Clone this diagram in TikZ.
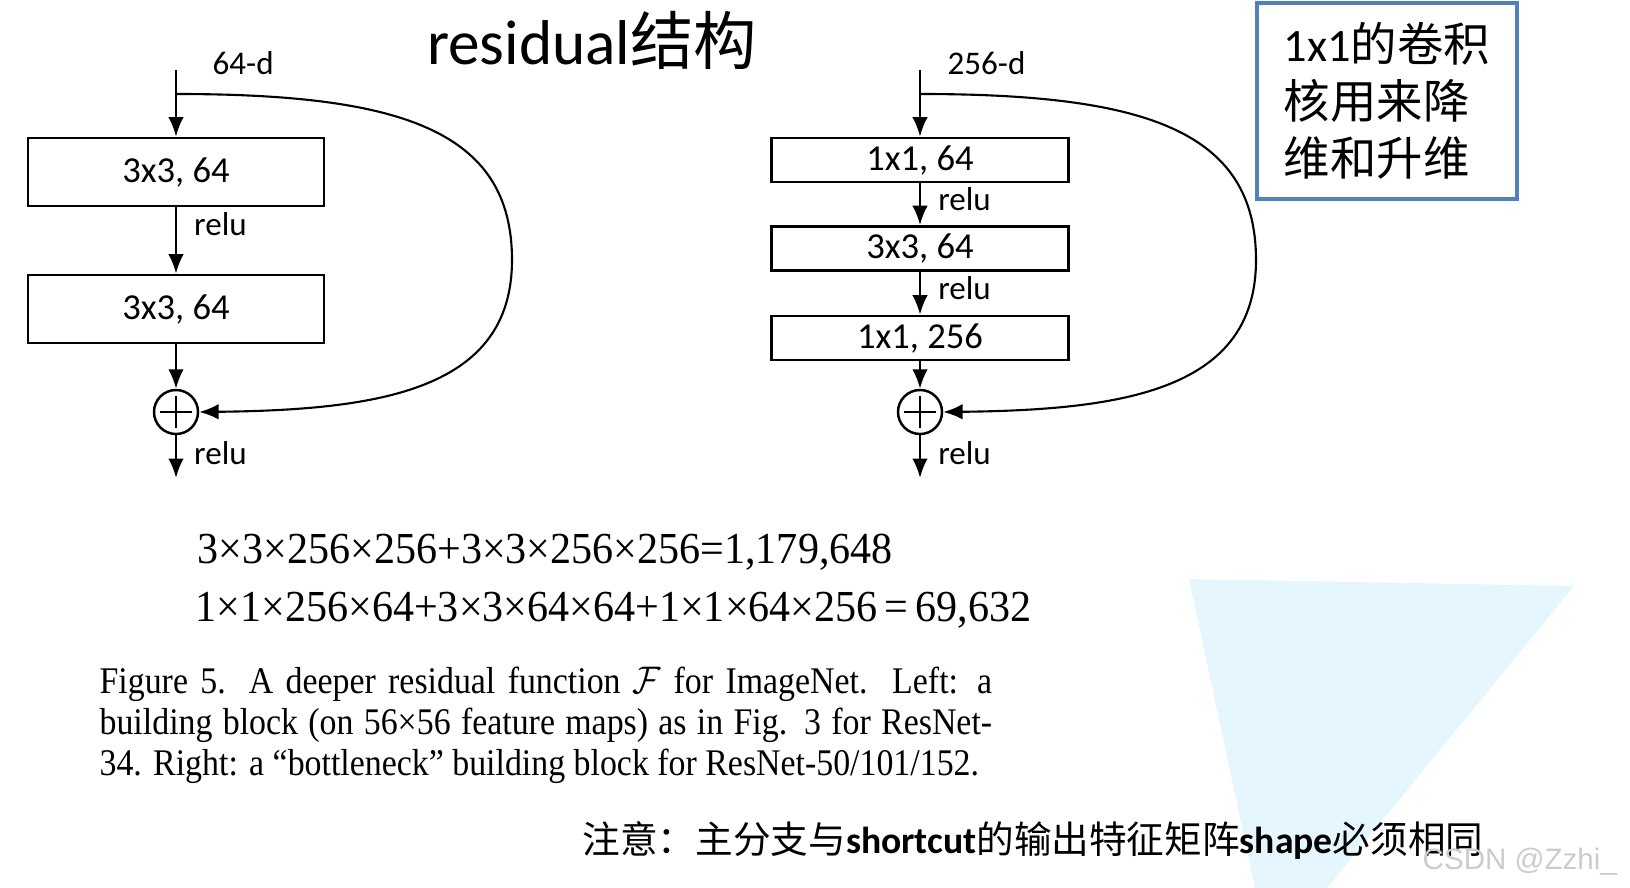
\documentclass[tikz,border=0pt]{standalone}
\usepackage{fontspec}
\usetikzlibrary{arrows.meta,positioning}
\setmainfont{Liberation Serif}
\newfontfamily\calibrifont{Carlito}
\newfontfamily\cjkfont{Noto Sans CJK SC}
\newfontfamily\markfont{Liberation Sans}
\definecolor{boxblue}{RGB}{79,129,189}
\definecolor{paleblue}{RGB}{230,246,254}

\begin{document}
\begin{tikzpicture}[x=0.01cm,y=-0.01cm,
    >={Latex[length=5.5pt,width=4.4pt]},
    flow/.style={->,line width=0.7pt},
    convbox/.style={draw,line width=0.8pt,inner sep=0pt,font=\calibrifont\fontsize{10.4}{12}\selectfont},
    bigbox/.style={convbox,minimum width=2.96cm,minimum height=0.68cm},
    thinbox/.style={convbox,minimum width=2.97cm,minimum height=0.44cm},
    sumnode/.style={circle,draw,line width=0.7pt,minimum size=0.44cm,inner sep=0pt,
        path picture={\draw[line width=0.7pt] (path picture bounding box.center)
            +(-0.16cm,0) -- +(0.16cm,0) +(0,-0.16cm) -- +(0,0.16cm);}},
    lbl/.style={font=\calibrifont\fontsize{9.4}{11}\selectfont,inner sep=0pt},
    relu/.style={lbl,anchor=west,xshift=0.17cm},
    eqline/.style={anchor=west,inner sep=0pt,xscale=0.95,transform shape,font=\fontsize{12.6}{14}\selectfont},
]
    \useasboundingbox (0,0) rectangle (1630,888);
    \fill[paleblue] (1189,579) -- (1574,586) -- (1327,888) -- (1255,888) -- cycle;

    % title
    \node (title) at (592,40) {\fontsize{18}{20}\selectfont{\calibrifont residual}{\cjkfont 结构}};

    % left: plain block
    \coordinate (lin) at (176,70);
    \coordinate (lsplit) at (176,94);
    \node[lbl,anchor=west] (ldim) at (212,63) {64-d};
    \node[bigbox] (lconv1) at (176,172) {3x3, 64};
    \node[bigbox] (lconv2) at (176,309) {3x3, 64};
    \node[sumnode] (lsum) at (176,412) {};
    \coordinate (lout) at (176,478);
    \draw[flow] (lin) -- (lconv1);
    \draw[flow] (lconv1) -- node[relu,pos=0.25] (lrelu1) {relu} (lconv2);
    \draw[flow] (lconv2) -- (lsum);
    \draw[flow] (lsum) -- node[relu,pos=0.41] (lrelu2) {relu} (lout);
    \draw[flow,line width=0.6pt] (lsplit) .. controls (400,94) and (512,130) .. (512,260)
        .. controls (512,390) and (380,410) .. (lsum.east);

    % right: bottleneck block
    \coordinate (rin) at (920,70);
    \coordinate (rsplit) at (920,94);
    \node[lbl,anchor=west] (rdim) at (947,63) {256-d};
    \node[thinbox] (rconv1) at (920,160) {1x1, 64};
    \node[thinbox] (rconv2) at (920,248.5) {3x3, 64};
    \node[thinbox] (rconv3) at (920,338) {1x1, 256};
    \node[sumnode] (rsum) at (920,412) {};
    \coordinate (rout) at (920,478);
    \draw[flow] (rin) -- (rconv1);
    \draw[flow] (rconv1) -- node[relu,pos=0.38] (rrelu1) {relu} (rconv2);
    \draw[flow] (rconv2) -- node[relu,pos=0.39] (rrelu2) {relu} (rconv3);
    \draw[flow] (rconv3) -- (rsum);
    \draw[flow] (rsum) -- node[relu,pos=0.41] (rrelu3) {relu} (rout);
    \draw[flow,line width=0.6pt] (rsplit) .. controls (1144,94) and (1256,130) .. (1256,260)
        .. controls (1256,390) and (1124,410) .. (rsum.east);

    % note box
    \node[draw=boxblue,line width=1.15pt,minimum width=2.6cm,minimum height=1.96cm,
        align=left,font=\fontsize{13.2}{16.2}\selectfont] (dimnote) at (1387,101)
        {{\calibrifont 1x1}{\cjkfont 的卷积}\\{\cjkfont 核用来降}\\{\cjkfont 维和升维}};

    % parameter counts
    \node[eqline] (eqplain) at (197,552) {3×3×256×256+3×3×256×256=1,179,648};
    \node[eqline] (eqneck) at (195,610) {1×1×256×64+3×3×64×64+1×1×64×256\,=\,69,632};

    % caption
    \node[anchor=west,align=left,inner sep=0pt,xscale=0.9,transform shape,
        font=\fontsize{10.7}{11.7}\selectfont] (caption) at (99,725)
        {\makebox[282pt][s]{Figure 5. A deeper residual function $\mathcal{F}$ for ImageNet.\ \ Left: a}\\
         \makebox[282pt][s]{building block (on 56×56 feature maps) as in Fig. 3 for ResNet-}\\
         34. Right: a “bottleneck” building block for ResNet-50/101/152.};

    \node[anchor=west,inner sep=0pt,font=\fontsize{10.7}{12}\selectfont] (shapenote) at (582,840)
        {{\cjkfont 注意：主分支与}{\calibrifont\bfseries shortcut}{\cjkfont 的输出特征矩阵}{\calibrifont\bfseries shape}{\cjkfont 必须相同}};

    \node[anchor=west,inner sep=0pt,text=black!20,font=\markfont\fontsize{8.4}{10}\selectfont] (mark) at (1422,862) {CSDN @Zzhi\_};
\end{tikzpicture}
\end{document}
